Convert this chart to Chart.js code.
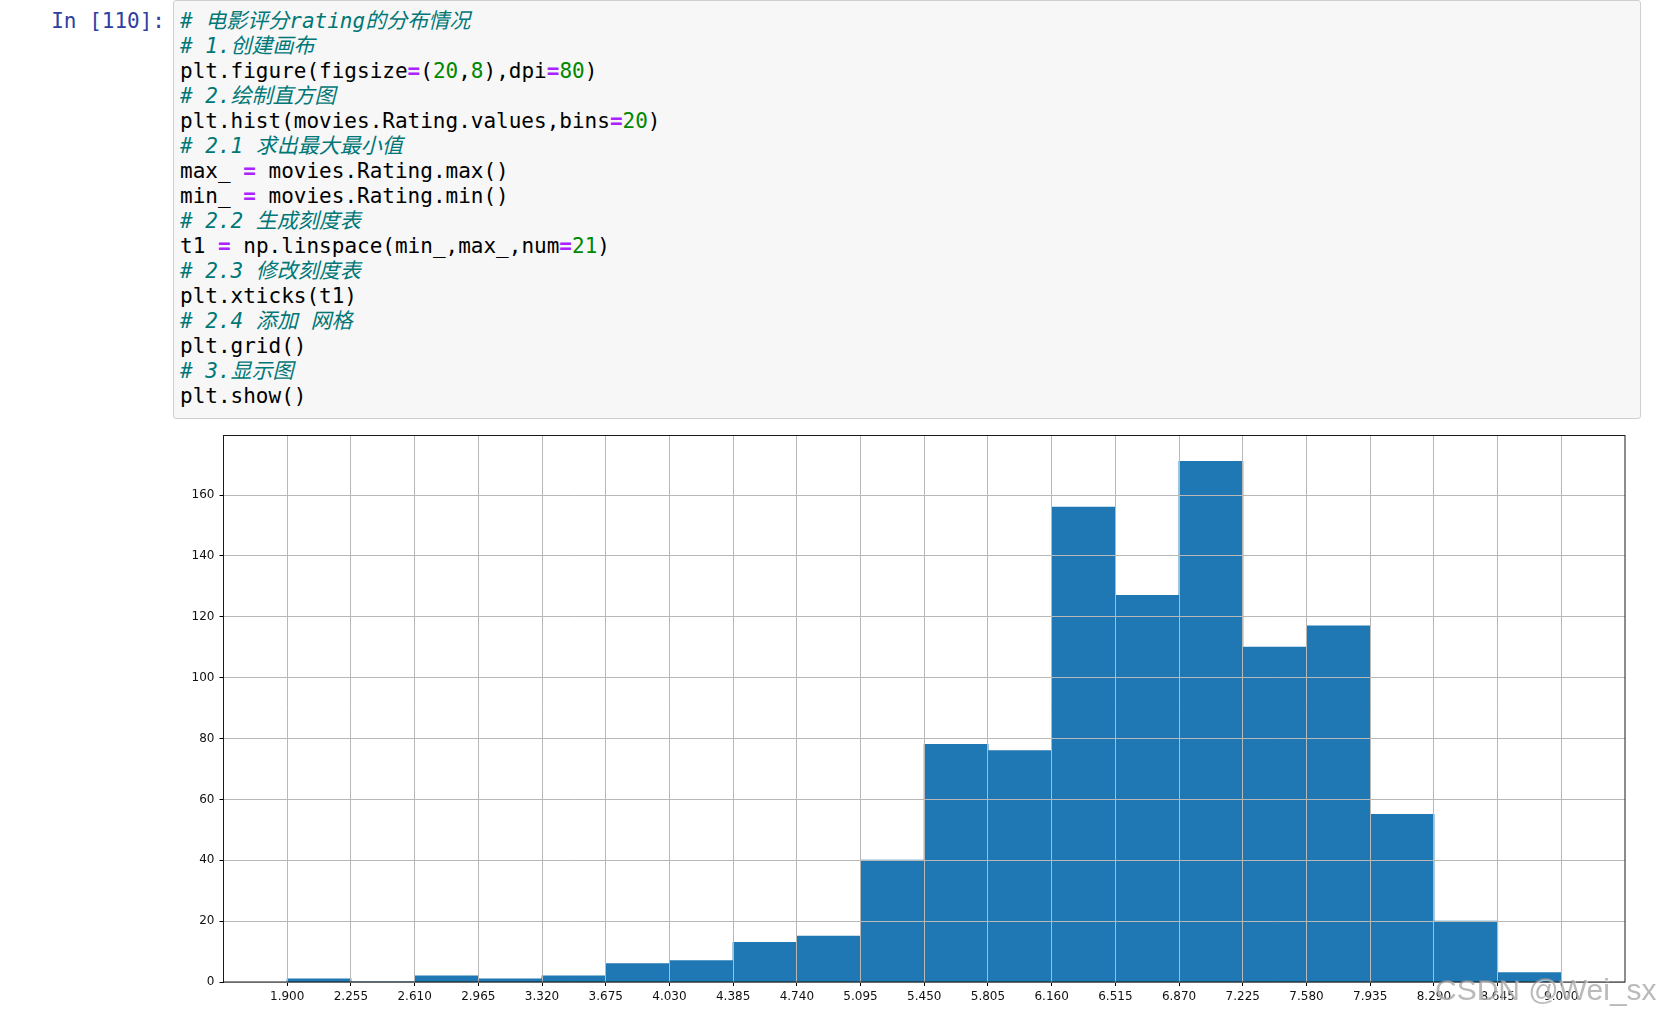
<!DOCTYPE html>
<html lang="zh">
<head>
<meta charset="utf-8">
<title>电影评分rating的分布情况</title>
<script src="https://cdn.jsdelivr.net/npm/chart.js@4/dist/chart.umd.min.js"></script>
<style>
  html, body { margin: 0; padding: 0; background: #fff; width: 1659px; height: 1020px; overflow: hidden; }
  .prompt {
    position: absolute; left: 20px; top: 9px; width: 145px; text-align: right;
    font: 21px/25px "DejaVu Sans Mono", "Noto Sans CJK SC", monospace; color: #303f9f;
  }
  .cell {
    position: absolute; left: 173px; top: 0; width: 1468px; height: 419px; box-sizing: border-box;
    background: #f7f7f7; border: 1px solid #cfcfcf; border-radius: 3px;
  }
  pre {
    margin: 0; position: absolute; left: 6px; top: 8px;
    font: 21px/25px "DejaVu Sans Mono", "Noto Sans CJK SC", monospace; color: #000;
  }
  .c { color: #007777; font-style: italic; }
  .o { color: #aa22ff; font-weight: bold; }
  .n { color: #008800; }
  #wrap { position: absolute; left: 175px; top: 420px; width: 1470px; height: 600px; }
  .mark {
    position: absolute; left: 1435px; top: 973px; white-space: nowrap;
    font: 30px "Liberation Sans", Arial, sans-serif;
    color: rgba(140,140,140,0.6); text-shadow: 1px 1px 1px rgba(255,255,255,0.7);
  }
</style>
</head>
<body>
<div class="prompt">In [110]:</div>
<div class="cell"><pre><span class="c"># 电影评分rating的分布情况</span>
<span class="c"># 1.创建画布</span>
plt.figure(figsize<span class="o">=</span>(<span class="n">20</span>,<span class="n">8</span>),dpi<span class="o">=</span><span class="n">80</span>)
<span class="c"># 2.绘制直方图</span>
plt.hist(movies.Rating.values,bins<span class="o">=</span><span class="n">20</span>)
<span class="c"># 2.1 求出最大最小值</span>
max_ <span class="o">=</span> movies.Rating.max()
min_ <span class="o">=</span> movies.Rating.min()
<span class="c"># 2.2 生成刻度表</span>
t1 <span class="o">=</span> np.linspace(min_,max_,num<span class="o">=</span><span class="n">21</span>)
<span class="c"># 2.3 修改刻度表</span>
plt.xticks(t1)
<span class="c"># 2.4 添加 网格</span>
plt.grid()
<span class="c"># 3.显示图</span>
plt.show()</pre></div>
<div id="wrap"><canvas id="grafico"></canvas></div>
<div class="mark">CSDN @Wei_sx</div>

<script>
const edges = [1.900, 2.255, 2.610, 2.965, 3.320, 3.675, 4.030, 4.385, 4.740, 5.095, 5.450,
               5.805, 6.160, 6.515, 6.870, 7.225, 7.580, 7.935, 8.290, 8.645, 9.000];
const counts = [1, 0, 2, 1, 2, 6, 7, 13, 15, 40, 78, 76, 156, 127, 171, 110, 117, 55, 20, 3];
const yTicks = [0, 20, 40, 60, 80, 100, 120, 140, 160];
const xMin = 1.545, xMax = 9.355, yMax = 179.55;

const points = counts.map((c, i) => ({ x: (edges[i] + edges[i + 1]) / 2, y: c }));

// the four spines of the matplotlib axes
const frame = {
  id: 'frame',
  afterDraw(chart) {
    const { ctx, chartArea: a } = chart;
    ctx.save();
    ctx.strokeStyle = '#1a1a1a';
    ctx.lineWidth = 1;
    ctx.strokeRect(a.left, a.top, a.right - a.left, a.bottom - a.top);
    ctx.restore();
  },
};

new Chart(document.getElementById('grafico'), {
  type: 'bar',
  data: {
    datasets: [{
      data: points,
      backgroundColor: '#1f77b4',
      barPercentage: 1,
      categoryPercentage: 1,
      inflateAmount: 0.5,
      borderWidth: 0,
    }],
  },
  plugins: [frame],
  options: {
    responsive: true,
    maintainAspectRatio: false,
    animation: false,
    layout: { padding: { top: 15.5, right: 20, left: 0, bottom: 0 } },
    plugins: { legend: { display: false }, tooltip: { enabled: false } },
    scales: {
      x: {
        type: 'linear',
        offset: false,
        min: xMin,
        max: xMax,
        afterBuildTicks: s => { s.ticks = edges.map(v => ({ value: v })); },
        afterFit: s => { s.height = 38; },
        border: { display: false },
        grid: { offset: false, z: 1, color: '#b8b8b8', lineWidth: 1, tickColor: '#000', tickLength: 4 },
        ticks: {
          autoSkip: false, maxRotation: 0, padding: 4, color: '#111',
          font: { family: 'DejaVu Sans', size: 12 },
          callback: v => v.toFixed(3),
        },
      },
      y: {
        min: 0,
        max: yMax,
        afterBuildTicks: s => { s.ticks = yTicks.map(v => ({ value: v })); },
        afterFit: s => { s.width = 48.5; },
        border: { display: false },
        grid: { z: 1, color: '#b8b8b8', lineWidth: 1, tickColor: '#000', tickLength: 4 },
        ticks: { padding: 5, color: '#111', font: { family: 'DejaVu Sans', size: 12 } },
      },
    },
  },
});
</script>
</body>
</html>
